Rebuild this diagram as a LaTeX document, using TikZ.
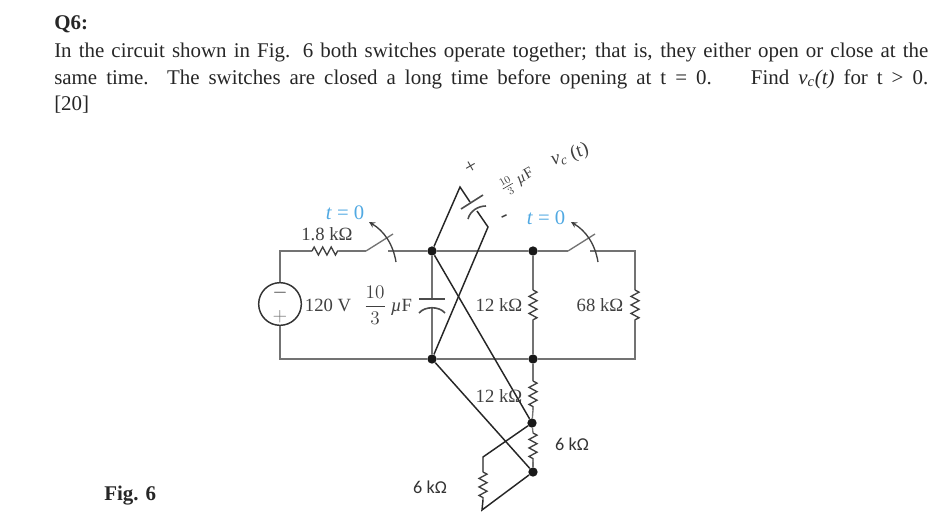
\documentclass[tikz,border=0pt]{standalone}
\usepackage{amsmath}
\usepackage{fontspec}
\setmainfont{Liberation Serif}
\newfontfamily\labelsans{Carlito}
\usetikzlibrary{arrows, decorations.pathmorphing}

\begin{document}
\begin{tikzpicture}[x=0.75pt, y=-0.75pt]
    \tikzstyle{textline} = [anchor=base west, inner sep=0pt, font=\fontsize{15.7}{18}\selectfont, text=black!85]
    \tikzstyle{wire} = [line width=1pt, draw=black!55]
    \tikzstyle{link} = [line width=1.1pt, draw=black!85]
    \tikzstyle{res} = [line width=1pt, draw=black!75, decorate, decoration={zigzag, segment length=6.4pt, amplitude=3pt}]
    \tikzstyle{plate} = [line width=1.2pt, draw=black!70]
    \tikzstyle{dot} = [circle, fill=black!90, inner sep=0pt, minimum size=7pt]
    \tikzstyle{lbl} = [inner sep=0pt, font=\fontsize{14}{16}\selectfont, text=black!75]
    \tikzstyle{sans} = [inner sep=0pt, font=\labelsans\fontsize{13.6}{16}\selectfont, text=black!80]
    \tikzstyle{cyanlbl} = [inner sep=0pt, font=\fontsize{15.5}{18}\selectfont, text=cyan!75!blue!70]
    \tikzstyle{arrow} = [line width=1pt, draw=black!75, ->, >=stealth]
    \useasboundingbox (0,0) rectangle (948,521);

    % question text
    \node (title) [textline] at (54,29) {\textbf{Q6:}};
    \node (lineone) [textline] at (54,57) {\hbox to 655.5pt{In the circuit shown in Fig. 6 both switches operate together; that is, they either open or close at the}};
    \node (linetwo) [textline] at (54,84) {\hbox to 655.5pt{same time. The switches are closed a long time before opening at t = 0. \quad Find \textit{v\textsubscript{c}(t)} for t > 0.}};
    \node (linethree) [textline] at (54,110) {[20]};
    \node (figlabel) [textline] at (104,500) {\textbf{Fig. 6}};

    % junctions
    \node (topa) [dot] at (432,251) {};
    \node (topb) [dot] at (533,251) {};
    \node (bota) [dot] at (432,359) {};
    \node (botb) [dot] at (533,359) {};
    \node (midc) [dot] at (532,423) {};
    \node (lowc) [dot] at (533,472) {};

    % corners and terminals
    \coordinate (cornertl) at (280,251);
    \coordinate (cornerbl) at (280,359);
    \coordinate (cornertr) at (635,251);
    \coordinate (cornerbr) at (635,359);
    \coordinate (resla) at (312,251);
    \coordinate (reslb) at (339,251);
    \coordinate (swla) at (366,251);
    \coordinate (swlb) at (393,234);
    \coordinate (swlc) at (388,251);
    \coordinate (swra) at (568,251);
    \coordinate (swrb) at (595,234);
    \coordinate (swrc) at (590,251);
    \coordinate (capa) at (432,299);
    \coordinate (capb) at (432,308);
    \coordinate (resma) at (533,290);
    \coordinate (resmb) at (533,320);
    \coordinate (resra) at (635,290);
    \coordinate (resrb) at (635,320);
    \coordinate (resna) at (533,381);
    \coordinate (resnb) at (533,410);
    \coordinate (resoa) at (533,433);
    \coordinate (resob) at (533,462);
    \coordinate (cornerp) at (483,457);
    \coordinate (respa) at (483,472);
    \coordinate (respb) at (483,500);
    \coordinate (endp) at (482,510);
    \coordinate (tiltl) at (460,187);
    \coordinate (tiltr) at (488,227);
    \coordinate (tiltpa) at (470,202);
    \coordinate (tiltpb) at (477,211);

    % source
    \node (source) [circle, draw=black!80, line width=1.1pt, minimum size=32pt, inner sep=0pt] at (280,304) {};
    \node (minus) [lbl, text=black!85] at (280,293) {$-$};
    \node (plus) [lbl, text=black!55] at (280,317) {$+$};

    % main loop
    \draw [wire] (source) -- (cornertl) -- (resla);
    \draw [res] (resla) -- (reslb);
    \draw [wire] (reslb) -- (swla);
    \draw [wire] (swla) -- (swlb);
    \draw [wire] (swlc) -- (topa);
    \draw [wire] (topa) -- (topb);
    \draw [wire] (topb) -- (swra);
    \draw [wire] (swra) -- (swrb);
    \draw [wire] (swrc) -- (cornertr) -- (resra);
    \draw [res] (resra) -- (resrb);
    \draw [wire] (resrb) -- (cornerbr) -- (botb);
    \draw [wire] (botb) -- (bota);
    \draw [wire] (bota) -- (cornerbl) -- (source);
    \draw [wire] (topa) -- (capa);
    \draw [wire] (capb) -- (bota);
    \draw [wire] (topb) -- (resma);
    \draw [res] (resma) -- (resmb);
    \draw [wire] (resmb) -- (botb);
    \draw [wire] (botb) -- (resna);
    \draw [res] (resna) -- (resnb);
    \draw [wire] (resnb) -- (midc);
    \draw [wire] (midc) -- (resoa);
    \draw [res] (resoa) -- (resob);
    \draw [wire] (resob) -- (lowc);

    % capacitor plates
    \draw [plate] (419,299) -- (445,299);
    \draw [plate] (419,313) .. controls (425,306) and (439,306) .. (445,313);
    \draw [plate] (461,209) -- (483,195);
    \draw [plate] (468,219) .. controls (470,211) and (478,206) .. (486,206);

    % switch arrows
    \draw [arrow] (396,262) .. controls (393,244) and (384,231) .. (369,222);
    \draw [arrow] (598,262) .. controls (595,244) and (586,231) .. (571,222);

    % crossing links
    \draw [link] (topa) -- (tiltl) -- (tiltpa);
    \draw [link] (tiltpb) -- (tiltr) -- (bota);
    \draw [link] (topa) -- (midc);
    \draw [link] (bota) -- (lowc);
    \draw [link] (midc) -- (cornerp) -- (respa);
    \draw [res] (respa) -- (respb);
    \draw [link] (respb) -- (endp) -- (lowc);

    % labels
    \node (swlabela) [cyanlbl] at (345,213) {\textit{t} = 0};
    \node (swlabelb) [cyanlbl] at (546,218) {\textit{t} = 0};
    \node (reslabela) [lbl] at (327,234) {1.8 kΩ};
    \node (vlabel) [lbl] at (328,305) {120 V};
    \node (caplabela) [lbl] at (388,305) {$\dfrac{10}{3}$ {\itshape µ}F};
    \node (reslabelb) [lbl] at (499,305) {12 kΩ};
    \node (reslabelc) [lbl] at (600,305) {68 kΩ};
    \node (reslabeld) [lbl] at (499,396) {12 kΩ};
    \node (reslabele) [sans] at (572,444) {6 kΩ};
    \node (reslabelf) [sans] at (430,487) {6 kΩ};
    \node (capplus) [lbl, rotate=30, font=\fontsize{16}{18}\selectfont] at (471,167) {+};
    \node (capminus) [lbl, rotate=25, font=\fontsize{16}{18}\selectfont] at (505,218) {-};
    \node (caplabelb) [lbl, rotate=30, font=\fontsize{11.5}{13}\selectfont] at (517,181) {$\frac{10}{3}$ {\itshape µ}F};
    \node (vclabel) [lbl, rotate=18, font=\fontsize{14.5}{16}\selectfont] at (570,155) {\textit{v\textsubscript{c}} (t)};
\end{tikzpicture}
\end{document}
